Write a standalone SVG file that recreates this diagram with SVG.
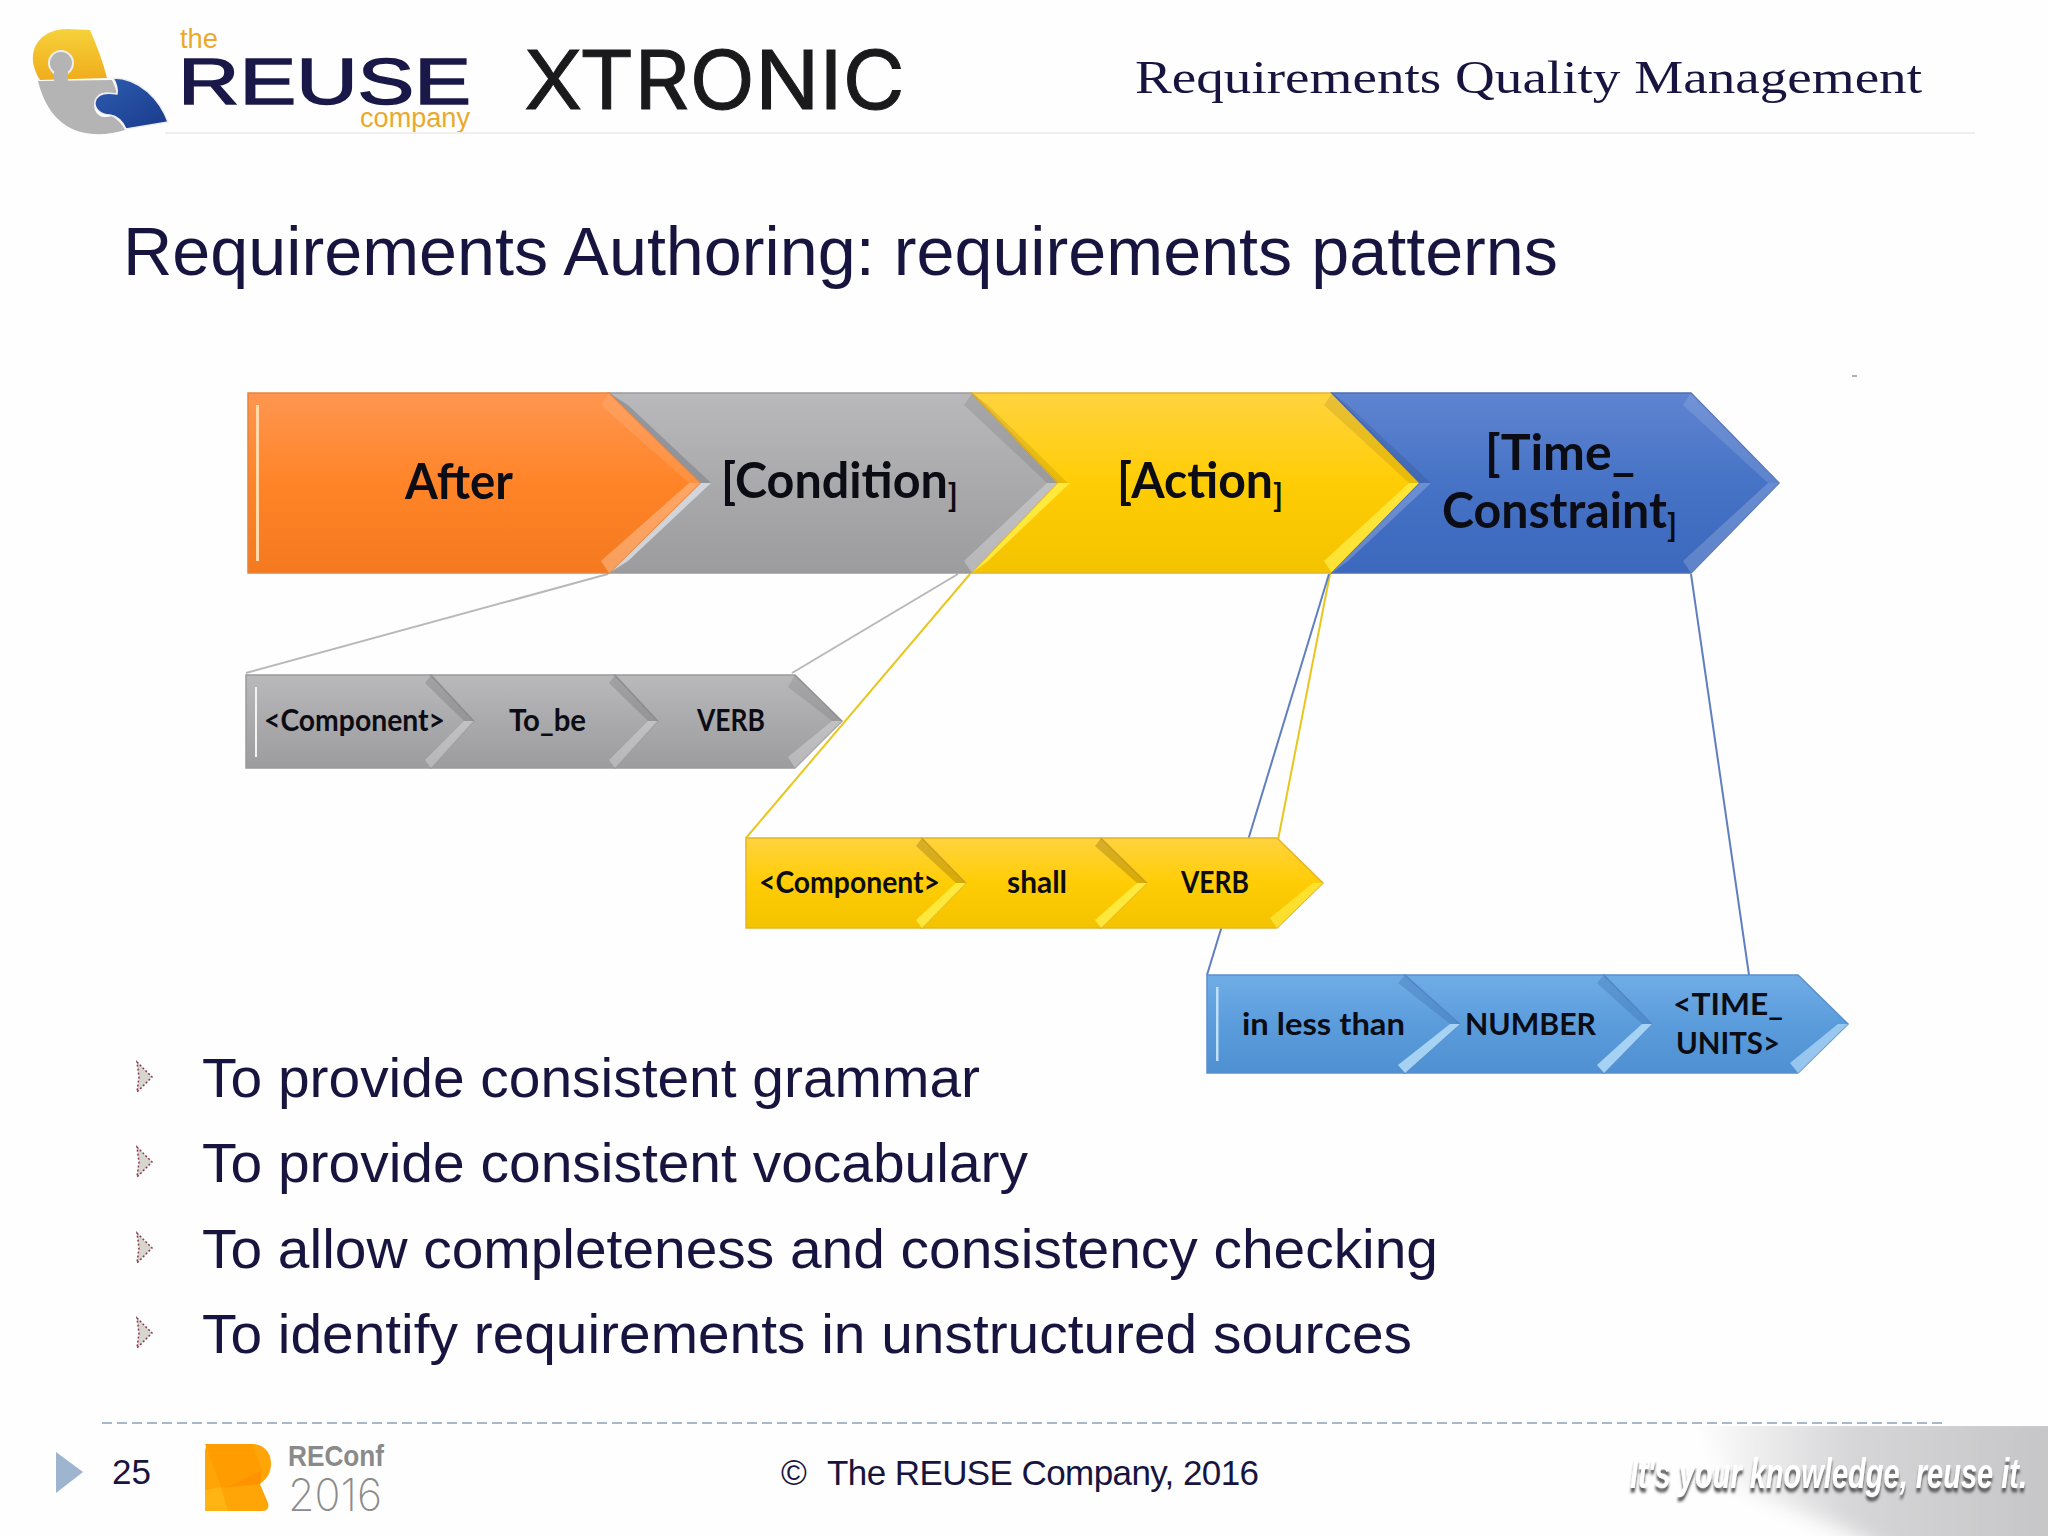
<svg xmlns="http://www.w3.org/2000/svg" width="2048" height="1536" viewBox="0 0 2048 1536">
<style>
.sans{font-family:"Liberation Sans",Arial,sans-serif}
.body{font-family:"Liberation Sans",Arial,sans-serif;font-size:56px;fill:#17153f}
.lab{font-family:Lato,"Open Sans",sans-serif;font-weight:700;fill:#0c0c14}
.big{font-size:45px}
.small{font-size:27px}
.hi{fill:#fff;opacity:.28}
.lo{fill:#000;opacity:.09}
.conn{fill:none;stroke-width:2}
.oG{stroke:#9a9a9c;stroke-width:1.5}
.oO{stroke:#e8843c;stroke-width:1.5}
.oY{stroke:#e2b52a;stroke-width:1.5}
.oB{stroke:#4c6fb8;stroke-width:1.5}
.oL{stroke:#5a8fd0;stroke-width:1.5}
.bul{fill:#d6d6ce;stroke:#8a3a50;stroke-width:1.5;stroke-dasharray:2 2}
</style>
<defs>
<linearGradient id="gO" x1="0" y1="0" x2="0" y2="1"><stop offset="0" stop-color="#ff9650"/><stop offset=".5" stop-color="#ff8428"/><stop offset="1" stop-color="#f57a1f"/></linearGradient>
<linearGradient id="gG" x1="0" y1="0" x2="0" y2="1"><stop offset="0" stop-color="#b9b8bb"/><stop offset=".5" stop-color="#aaa9ab"/><stop offset="1" stop-color="#9c9b9d"/></linearGradient>
<linearGradient id="gY" x1="0" y1="0" x2="0" y2="1"><stop offset="0" stop-color="#ffd33f"/><stop offset=".5" stop-color="#ffcd05"/><stop offset="1" stop-color="#f4c300"/></linearGradient>
<linearGradient id="gB" x1="0" y1="0" x2="0" y2="1"><stop offset="0" stop-color="#5f84d0"/><stop offset=".5" stop-color="#4673c6"/><stop offset="1" stop-color="#3c68bd"/></linearGradient>
<linearGradient id="gL" x1="0" y1="0" x2="0" y2="1"><stop offset="0" stop-color="#70ade6"/><stop offset=".5" stop-color="#5b9cdc"/><stop offset="1" stop-color="#4f90d2"/></linearGradient>
<linearGradient id="gSl" gradientUnits="userSpaceOnUse" x1="1690" y1="0" x2="2048" y2="0"><stop offset="0" stop-color="#fff"/><stop offset=".45" stop-color="#d6d6d8"/><stop offset="1" stop-color="#c6c6c8"/></linearGradient>
<linearGradient id="gPY" x1="0" y1="0" x2="0" y2="1"><stop offset="0" stop-color="#f6d23a"/><stop offset="1" stop-color="#f0ac1c"/></linearGradient>
<linearGradient id="gPB" x1="0" y1="0" x2="1" y2="1"><stop offset="0" stop-color="#2d5db0"/><stop offset="1" stop-color="#1a3a8c"/></linearGradient>
<filter id="soft" x="-20%" y="-40%" width="140%" height="180%"><feGaussianBlur stdDeviation="10"/></filter>
<filter id="sh" x="-5%" y="-30%" width="110%" height="170%"><feDropShadow dx="0" dy="3" stdDeviation="1" flood-color="#555" flood-opacity="1"/></filter>
<clipPath id="slClip"><rect x="1600" y="1426" width="448" height="110"/></clipPath>
</defs>
<rect width="2048" height="1536" fill="#fefefe"/>

<g id="logo-reuse">
<path d="M33 62C31 44 44 29 67 29L90 30C97 46 103 62 107 78L40 80C36 74 34 68 33 62Z" fill="url(#gPY)"/>
<path d="M38 81L112 80C118 92 118 98 110 93C98 90 92 100 95 110C98 118 106 118 112 116C118 120 122 124 125 130C95 139 52 138 38 81Z" fill="#b4b4b4"/>
<circle cx="61" cy="63" r="12" fill="#b4b4b4" stroke="#eee" stroke-width="2"/>
<rect x="54" y="72" width="14" height="10" fill="#b4b4b4"/>
<path d="M113 78C140 78 160 100 168 122L126 129C122 120 116 116 110 115C100 115 94 108 95 102C97 93 106 92 117 94C118 88 116 83 113 78Z" fill="url(#gPB)" stroke="#eee" stroke-width="1.5"/>
<text x="180" y="48" class="sans" font-size="27" fill="#eaa92c" textLength="38" lengthAdjust="spacingAndGlyphs">the</text>
<text x="178" y="104" class="sans" font-size="65" fill="#1a1848" stroke="#1a1848" stroke-width="1.5" textLength="293" lengthAdjust="spacingAndGlyphs">REUSE</text>
<text x="360" y="127" class="sans" font-size="27" fill="#eaa92c" textLength="110" lengthAdjust="spacingAndGlyphs">company</text>
</g>
<g id="logo-xtronic">
<text x="524" y="109" font-family="Inter,'DejaVu Sans',sans-serif" font-size="81" font-weight="400" fill="#1a1a1c" stroke="#1a1a1c" stroke-width="1" textLength="381" lengthAdjust="spacingAndGlyphs">XTRONIC</text>
</g>
<g id="header">
<text x="1135" y="93" font-family="'Liberation Serif','DejaVu Serif',serif" font-size="47" fill="#17153f" textLength="787" lengthAdjust="spacingAndGlyphs">Requirements Quality Management</text>
<line x1="165" y1="133" x2="1975" y2="133" stroke="#efefef" stroke-width="2"/>
</g>
<text id="title" x="123" y="275" class="sans" font-size="68" fill="#17153f" textLength="1435" lengthAdjust="spacingAndGlyphs">Requirements Authoring: requirements patterns</text>
<path d="M1852 376h5" stroke="#999" stroke-width="1.5"/>

<g id="connectors">
<path class="conn" stroke="#b8b8ba" d="M608 574L246 673"/>
<path class="conn" stroke="#b8b8ba" d="M958 574L792 673"/>
<path class="conn" stroke="#e8c61e" d="M970 574L746 838"/>
<path class="conn" stroke="#e8c61e" d="M1330 574L1278 840"/>
<path class="conn" stroke="#5f7fc0" d="M1329 574L1207 975"/>
<path class="conn" stroke="#5f7fc0" d="M1691 574L1749 975"/>
</g>

<g id="node-condition">
<polygon class="oG" points="609,393 972,393 1058,483 972,573 609,573 700,483" fill="url(#gG)"/>
<polygon points="609,393 700,483 711,483 628,405" fill="#858a92" opacity=".7"/>
<polygon points="609,573 700,483 711,483 628,561" fill="#d6dae0" opacity=".9"/>
<polygon class="lo" points="972,393 1058,483 1047,483 964,405"/>
<polygon class="hi" points="972,573 1058,483 1047,483 964,561"/>
<text transform="translate(721 498) scale(1 1.1)" class="lab big" textLength="237" lengthAdjust="spacingAndGlyphs">[Condition<tspan dy="8" font-size="30">]</tspan></text>
</g>
<g id="node-after">
<polygon class="oO" points="248,393 609,393 700,483 609,573 248,573" fill="url(#gO)"/>
<rect x="256" y="405" width="3" height="156" fill="#ffd9a8"/>
<polygon points="609,393 700,483 689,483 601,405" fill="#fff" opacity=".1"/>
<polygon class="hi" points="609,573 700,483 689,483 601,561"/>
<text transform="translate(405 499) scale(1 1.1)" class="lab big" textLength="108" lengthAdjust="spacingAndGlyphs">After</text>
</g>
<g id="node-action">
<polygon class="oY" points="972,393 1332,393 1420,483 1332,573 972,573 1058,483" fill="url(#gY)"/>
<polygon class="lo" points="972,393 1058,483 1068,483 988,405"/>
<polygon points="972,573 1058,483 1070,483 988,561" fill="#fff04a" opacity=".8"/>
<polygon class="lo" points="1332,393 1420,483 1409,483 1324,405" opacity=".05"/>
<polygon points="1332,573 1420,483 1409,483 1324,561" fill="#fff04a" opacity=".7"/>
<text transform="translate(1117 498) scale(1 1.1)" class="lab big" textLength="166" lengthAdjust="spacingAndGlyphs">[Action<tspan dy="8" font-size="30">]</tspan></text>
</g>
<g id="node-time-constraint">
<polygon class="oB" points="1332,393 1691,393 1779,483 1691,573 1332,573 1420,483" fill="url(#gB)"/>
<polygon class="lo" points="1332,393 1420,483 1431,483 1348,405"/>
<polygon points="1332,573 1420,483 1431,483 1348,561" fill="#fff" opacity=".2"/>
<polygon points="1691,393 1779,483 1768,483 1683,405" fill="#fff" opacity=".12"/>
<polygon points="1691,573 1779,483 1768,483 1683,561" fill="#fff" opacity=".18"/>
<text transform="translate(1485 470) scale(1 1.1)" class="lab big" textLength="150" lengthAdjust="spacingAndGlyphs">[Time_</text>
<text transform="translate(1442 528) scale(1 1.1)" class="lab big" textLength="235" lengthAdjust="spacingAndGlyphs">Constraint<tspan dy="8" font-size="30">]</tspan></text>
</g>

<g id="node-gray-component">
<polygon class="oG" points="246,675 431,675 474,721 431,768 246,768" fill="url(#gG)"/>
<rect x="255" y="687" width="2" height="70" fill="#f2f2f2"/>
<text transform="translate(264 731) scale(1 1.1)" class="lab small" textLength="181" lengthAdjust="spacingAndGlyphs">&lt;Component&gt;</text>
</g>
<g id="node-gray-tobe">
<polygon class="oG" points="431,675 615,675 658,721 615,768 431,768 474,721" fill="url(#gG)"/>
<polygon points="431,675 474,721 464,721 425,683" fill="#000" opacity=".12"/>
<polygon class="hi" points="431,768 474,721 464,721 425,760" opacity=".5"/>
<text transform="translate(509 731) scale(1 1.1)" class="lab small" textLength="77" lengthAdjust="spacingAndGlyphs">To_be</text>
</g>
<g id="node-gray-verb">
<polygon class="oG" points="615,675 795,675 842,721 795,768 615,768 658,721" fill="url(#gG)"/>
<polygon points="615,675 658,721 648,721 609,683" fill="#000" opacity=".12"/>
<polygon class="hi" points="615,768 658,721 648,721 609,760" opacity=".5"/>
<polygon class="lo" points="795,675 842,721 832,721 788,687"/>
<polygon class="hi" points="795,768 842,721 832,721 788,757" opacity=".45"/>
<text transform="translate(697 731) scale(1 1.1)" class="lab small" textLength="68" lengthAdjust="spacingAndGlyphs">VERB</text>
</g>

<g id="node-yellow-component">
<polygon class="oY" points="746,838 922,838 966,883 922,928 746,928" fill="url(#gY)"/>
<text transform="translate(759 893) scale(1 1.1)" class="lab small" textLength="181" lengthAdjust="spacingAndGlyphs">&lt;Component&gt;</text>
</g>
<g id="node-yellow-shall">
<polygon class="oY" points="922,838 1101,838 1147,883 1101,928 922,928 966,883" fill="url(#gY)"/>
<polygon points="922,838 966,883 956,883 916,846" fill="#7a5a00" opacity=".3"/>
<polygon points="922,928 966,883 956,883 916,920" fill="#fff04a" opacity=".8"/>
<text transform="translate(1007 893) scale(1 1.1)" class="lab small" textLength="60" lengthAdjust="spacingAndGlyphs">shall</text>
</g>
<g id="node-yellow-verb">
<polygon class="oY" points="1101,838 1277,838 1323,883 1277,928 1101,928 1147,883" fill="url(#gY)"/>
<polygon points="1101,838 1147,883 1137,883 1095,846" fill="#7a5a00" opacity=".3"/>
<polygon points="1101,928 1147,883 1137,883 1095,920" fill="#fff04a" opacity=".8"/>
<polygon points="1277,928 1323,883 1313,883 1270,918" fill="#fff04a" opacity=".6"/>
<text transform="translate(1181 893) scale(1 1.1)" class="lab small" textLength="68" lengthAdjust="spacingAndGlyphs">VERB</text>
</g>

<g id="node-blue-lessthan">
<polygon class="oL" points="1207,975 1405,975 1460,1024 1405,1073 1207,1073" fill="url(#gL)"/>
<rect x="1216" y="987" width="2.5" height="74" fill="#bfe0f8"/>
<text transform="translate(1242 1035) scale(1 1.1)" class="lab small" textLength="163" lengthAdjust="spacingAndGlyphs">in less than</text>
</g>
<g id="node-blue-number">
<polygon class="oL" points="1405,975 1604,975 1652,1024 1604,1073 1405,1073 1460,1024" fill="url(#gL)"/>
<polygon points="1405,975 1460,1024 1450,1024 1398,983" fill="#2a5a9a" opacity=".25"/>
<polygon points="1405,1073 1460,1024 1450,1024 1398,1065" fill="#b4dcf8" opacity=".85"/>
<text transform="translate(1465 1035) scale(1 1.1)" class="lab small" textLength="131" lengthAdjust="spacingAndGlyphs">NUMBER</text>
</g>
<g id="node-blue-timeunits">
<polygon class="oL" points="1604,975 1798,975 1848,1024 1798,1073 1604,1073 1652,1024" fill="url(#gL)"/>
<polygon points="1604,975 1652,1024 1642,1024 1597,983" fill="#2a5a9a" opacity=".25"/>
<polygon points="1604,1073 1652,1024 1642,1024 1597,1065" fill="#b4dcf8" opacity=".85"/>
<polygon points="1798,1073 1848,1024 1838,1024 1790,1063" fill="#b4dcf8" opacity=".7"/>
<text transform="translate(1673 1015) scale(1 1.1)" class="lab small" textLength="110" lengthAdjust="spacingAndGlyphs">&lt;TIME_</text>
<text transform="translate(1676 1054) scale(1 1.1)" class="lab small" textLength="104" lengthAdjust="spacingAndGlyphs">UNITS&gt;</text>
</g>

<g id="bullets">
<polygon class="bul" points="137,1062 152,1077 137,1092 139,1077"/>
<polygon class="bul" points="137,1147 152,1162 137,1177 139,1162"/>
<polygon class="bul" points="137,1233 152,1248 137,1263 139,1248"/>
<polygon class="bul" points="137,1318 152,1333 137,1348 139,1333"/>
<text x="202" y="1097" class="body" textLength="778" lengthAdjust="spacingAndGlyphs">To provide consistent grammar</text>
<text x="202" y="1182" class="body" textLength="826" lengthAdjust="spacingAndGlyphs">To provide consistent vocabulary</text>
<text x="202" y="1268" class="body" textLength="1236" lengthAdjust="spacingAndGlyphs">To allow completeness and consistency checking</text>
<text x="202" y="1353" class="body" textLength="1210" lengthAdjust="spacingAndGlyphs">To identify requirements in unstructured sources</text>
</g>

<g id="footer">
<line x1="102" y1="1423" x2="1946" y2="1423" stroke="#a9b8c6" stroke-width="2" stroke-dasharray="10 5"/>
<polygon points="56,1452 83,1472 56,1493" fill="#9db5cf"/>
<text x="112" y="1484" class="sans" font-size="35" fill="#17153f">25</text>
<path d="M205 1452Q205 1444 213 1444L252 1444C264 1444 271 1453 271 1463C271 1472 268 1478 260 1484L268 1503Q270 1511 262 1511L213 1511Q205 1511 205 1503Z" fill="#ffa508"/>
<polygon points="205,1444 252,1444 262,1470 230,1486 221,1488" fill="#ff9d00"/>
<polygon points="230,1486 262,1470 260,1484 222,1488" fill="#ff9200"/>
<polygon points="205,1490 221,1487 228,1511 205,1511" fill="#ffb414"/>
<text x="288" y="1466" class="sans" font-size="30" font-weight="700" fill="#8a8a8a" textLength="96" lengthAdjust="spacingAndGlyphs">REConf</text>
<text x="288" y="1511" font-family="Inter,'Liberation Sans',sans-serif" font-weight="200" font-size="45" fill="#8c8c8c" textLength="94" lengthAdjust="spacingAndGlyphs">2016</text>
<text x="781" y="1485" class="sans" font-size="35" fill="#17153f">©</text>
<text x="827" y="1485" class="sans" font-size="35" fill="#17153f" textLength="432" lengthAdjust="spacing">The REUSE Company, 2016</text>
<g clip-path="url(#slClip)"><path d="M1700 1410L2070 1410L2070 1570L1900 1560C1830 1515 1770 1505 1730 1480Z" fill="url(#gSl)" filter="url(#soft)"/></g>
<text transform="translate(1630 1488) scale(1 1.45)" font-family="'Liberation Sans',sans-serif" font-weight="700" font-style="italic" font-size="29" fill="#fff" filter="url(#sh)" textLength="397" lengthAdjust="spacingAndGlyphs">It's your knowledge, reuse it.</text>
</g>
</svg>
